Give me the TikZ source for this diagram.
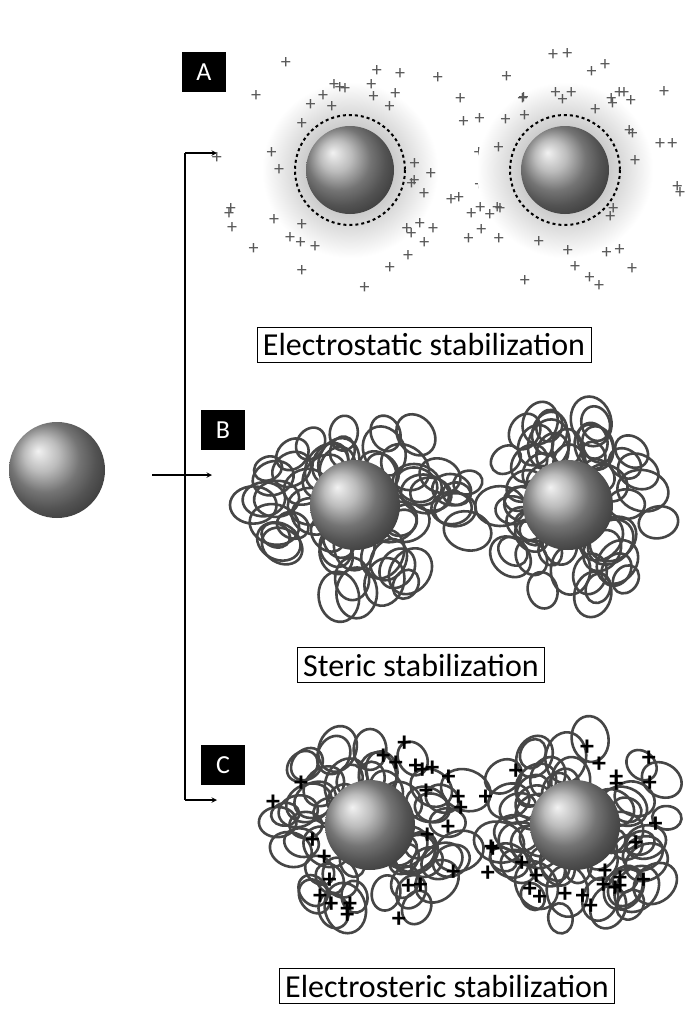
\documentclass[tikz,border=0pt]{standalone}
\usepackage{fontspec}
\setmainfont{Carlito}
\begin{document}
\begin{tikzpicture}[x=1pt,y=-1pt,
  ball/.style={shading=ball,ball color=gray!70,draw=none},
  lbl/.style={fill=black,text=white,font=\fontsize{26}{26}\selectfont,minimum width=44pt,minimum height=40pt,inner sep=0pt},
  captionbox/.style={draw=black,line width=0.8pt,font=\fontsize{32}{32}\selectfont,inner sep=6pt},
  arr/.style={->,line width=1.4pt,>=stealth},
  tangle/.style={draw=gray!55!black,line width=2.6pt},
  pl/.style={font=\fontsize{20}{20}\selectfont,text=gray!70!black,inner sep=0pt},
  bpl/.style={font=\bfseries\fontsize{28}{28}\selectfont,text=black,inner sep=0pt}]
\useasboundingbox (0,0) rectangle (700,1017);
\fill[white] (0,0) rectangle (700,1017);
% left sphere
\shade[ball] (57,470) circle (48);
\coordinate (s) at (152,475);
\coordinate (top) at (185,153);
\coordinate (bot) at (185,800);
\coordinate (ea) at (217,153);
\coordinate (eb) at (212,475);
\coordinate (ec) at (217,800);
\draw[line width=1.4pt] (top) -- (bot);
\draw[arr] (top) -- (ea);
\draw[arr] (s) -- (eb);
\draw[arr] (bot) -- (ec);
% labels
\node[lbl] (A) at (204,72) {A};
\node[lbl] (B) at (223,430) {B};
\node[lbl] (C) at (223,765) {C};
% A
\pgfmathsetseed{7}
\foreach \cx in {350,565}{
  \shade[inner color=gray!80,outer color=white] (\cx,170) circle (88);
  \foreach \i in {1,...,34}{
    \pgfmathsetmacro\a{random(0,359)}
    \pgfmathsetmacro\r{rnd*55+88}
    \node[pl] at ({\cx+\r*cos(\a)},{170+0.85*\r*sin(\a)}) {+};
  }
  \foreach \i in {1,...,14}{
    \pgfmathsetmacro\a{random(0,359)}
    \pgfmathsetmacro\r{rnd*20+62}
    \node[pl] at ({\cx+\r*cos(\a)},{170+\r*sin(\a)}) {+};
  }
  \draw[black,line width=2pt,dash pattern=on 3pt off 3pt] (\cx,170) circle (55);
  \shade[ball] (\cx,170) circle (44);
}
\node[captionbox] (ta) at (424,345) {Electrostatic stabilization};
% B
\pgfmathsetseed{3}
\foreach \cx/\cy in {355/505,568/505}{
  \foreach \i in {1,...,55}{
    \pgfmathsetmacro\a{random(0,359)}
    \pgfmathsetmacro\r{rnd*65+40}
    \pgfmathsetmacro\s{rnd*12+14}
    \draw[tangle] ({\cx+\r*cos(\a)},{\cy+0.9*\r*sin(\a)}) circle[x radius=\s, y radius=\s*0.8,rotate=\a];
  }
  \shade[ball] (\cx,\cy) circle (45);
}
\node[captionbox] (tb) at (421,665) {Steric stabilization};
% C
\pgfmathsetseed{11}
\foreach \cx/\cy in {370/825,575/825}{
  \foreach \i in {1,...,55}{
    \pgfmathsetmacro\a{random(0,359)}
    \pgfmathsetmacro\r{rnd*65+40}
    \pgfmathsetmacro\s{rnd*12+14}
    \draw[tangle] ({\cx+\r*cos(\a)},{\cy+0.9*\r*sin(\a)}) circle[x radius=\s, y radius=\s*0.8,rotate=\a];
  }
  \shade[ball] (\cx,\cy) circle (45);
  \foreach \i in {1,...,26}{
    \pgfmathsetmacro\a{random(0,359)}
    \pgfmathsetmacro\r{rnd*45+55}
    \node[bpl] at ({\cx+\r*cos(\a)},{\cy+\r*sin(\a)}) {+};
  }
}
\node[captionbox] (tc) at (447,986) {Electrosteric stabilization};
\end{tikzpicture}
\end{document}
